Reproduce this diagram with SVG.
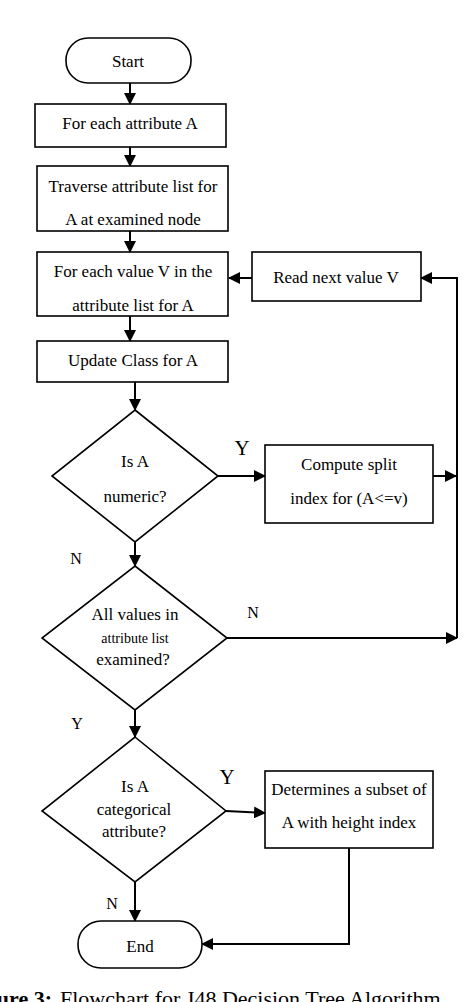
<svg xmlns="http://www.w3.org/2000/svg" width="474" height="1002" viewBox="0 0 474 1002">
<style>
.n{fill:#fff;stroke:#000;stroke-width:1.6}
.t{font-family:'Liberation Serif','Times New Roman',serif;font-size:17px;fill:#000;text-anchor:middle}
.s{font-size:14px}
.l{font-family:'Liberation Serif','Times New Roman',serif;fill:#000;text-anchor:middle}
.c{fill:none;stroke:#000;stroke-width:2}
</style>
<defs>
<marker id="ah" markerWidth="12" markerHeight="12" refX="11" refY="6" orient="auto" markerUnits="userSpaceOnUse">
<path d="M0,0 L12,6 L0,12 Z" fill="#000"/>
</marker>
</defs>
<rect width="474" height="1002" fill="#fff"/>
<g id="connectors">
<path class="c" d="M130,83 V104" marker-end="url(#ah)"/>
<path class="c" d="M130,147 V166" marker-end="url(#ah)"/>
<path class="c" d="M130,231 V252" marker-end="url(#ah)"/>
<path class="c" d="M252,278 H229" marker-end="url(#ah)"/>
<path class="c" d="M130,316 V341" marker-end="url(#ah)"/>
<path class="c" d="M135,382 V410" marker-end="url(#ah)"/>
<path class="c" d="M218,476 H265" marker-end="url(#ah)"/>
<path class="c" d="M433,476 H456" marker-end="url(#ah)"/>
<path class="c" d="M457,638 V278 H421" marker-end="url(#ah)"/>
<path class="c" d="M135,542 V566" marker-end="url(#ah)"/>
<path class="c" d="M227,638 H457" marker-end="url(#ah)"/>
<path class="c" d="M135,710 V737" marker-end="url(#ah)"/>
<path class="c" d="M226,811 L265,813" marker-end="url(#ah)"/>
<path class="c" d="M135,882 V921" marker-end="url(#ah)"/>
<path class="c" d="M349,848 V944 H202" marker-end="url(#ah)"/>
<text class="l" x="242" y="455" font-size="21">Y</text>
<text class="l" x="76" y="564" font-size="16">N</text>
<text class="l" x="253" y="618" font-size="16">N</text>
<text class="l" x="77" y="729" font-size="16">Y</text>
<text class="l" x="227" y="784" font-size="21">Y</text>
<text class="l" x="112" y="909" font-size="16">N</text>
</g>
<g id="start">
<rect class="n" x="66" y="38" width="125" height="45" rx="22"/>
<text class="t" x="128" y="67" font-size="16">Start</text>
</g>
<g id="for-each-attribute">
<rect class="n" x="35" y="104" width="191" height="43"/>
<text class="t" x="130" y="129">For each attribute A</text>
</g>
<g id="traverse">
<rect class="n" x="37" y="166" width="191" height="65"/>
<text class="t" x="133" y="192">Traverse attribute list for</text>
<text class="t" x="133" y="225">A at examined node</text>
</g>
<g id="for-each-value">
<rect class="n" x="37" y="252" width="191" height="64"/>
<text class="t" x="133" y="277">For each value V in the</text>
<text class="t" x="133" y="311">attribute list for A</text>
</g>
<g id="read-next">
<rect class="n" x="252" y="252" width="169" height="49"/>
<text class="t" x="336" y="283">Read next value V</text>
</g>
<g id="update-class">
<rect class="n" x="37" y="341" width="191" height="41"/>
<text class="t" x="133" y="366">Update Class for A</text>
</g>
<g id="is-numeric">
<polygon class="n" points="135,410 218,476 135,542 52,476"/>
<text class="t" x="135" y="467" font-size="16">Is A</text>
<text class="t" x="135" y="502" font-size="16">numeric?</text>
</g>
<g id="compute-split">
<rect class="n" x="265" y="445" width="168" height="78"/>
<text class="t" x="349" y="470">Compute split</text>
<text class="t" x="349" y="504">index for (A&lt;=v)</text>
</g>
<g id="all-values">
<polygon class="n" points="135,566 227,638 135,710 42,638"/>
<text class="t" x="135" y="620">All values in</text>
<text class="t s" x="135" y="643">attribute list</text>
<text class="t" x="133" y="665" font-size="16">examined?</text>
</g>
<g id="is-categorical">
<polygon class="n" points="135,737 226,811 135,882 42,811"/>
<text class="t" x="135" y="792" font-size="16">Is A</text>
<text class="t" x="134" y="815" font-size="16">categorical</text>
<text class="t" x="134" y="837" font-size="16">attribute?</text>
</g>
<g id="determines">
<rect class="n" x="265" y="771" width="168" height="77"/>
<text class="t" x="349" y="795">Determines a subset of</text>
<text class="t" x="349" y="828">A with height index</text>
</g>
<g id="end">
<rect class="n" x="78" y="921" width="124" height="47" rx="23"/>
<text class="t" x="140" y="952" font-size="16">End</text>
</g>
<g id="caption">
<text x="52" y="1006" font-family="'Liberation Serif','Times New Roman',serif" font-size="22" font-weight="bold" text-anchor="end">Figure 3:</text>
<text x="60" y="1006" font-family="'Liberation Serif','Times New Roman',serif" font-size="22">Flowchart for J48 Decision Tree Algorithm</text>
</g>
</svg>
